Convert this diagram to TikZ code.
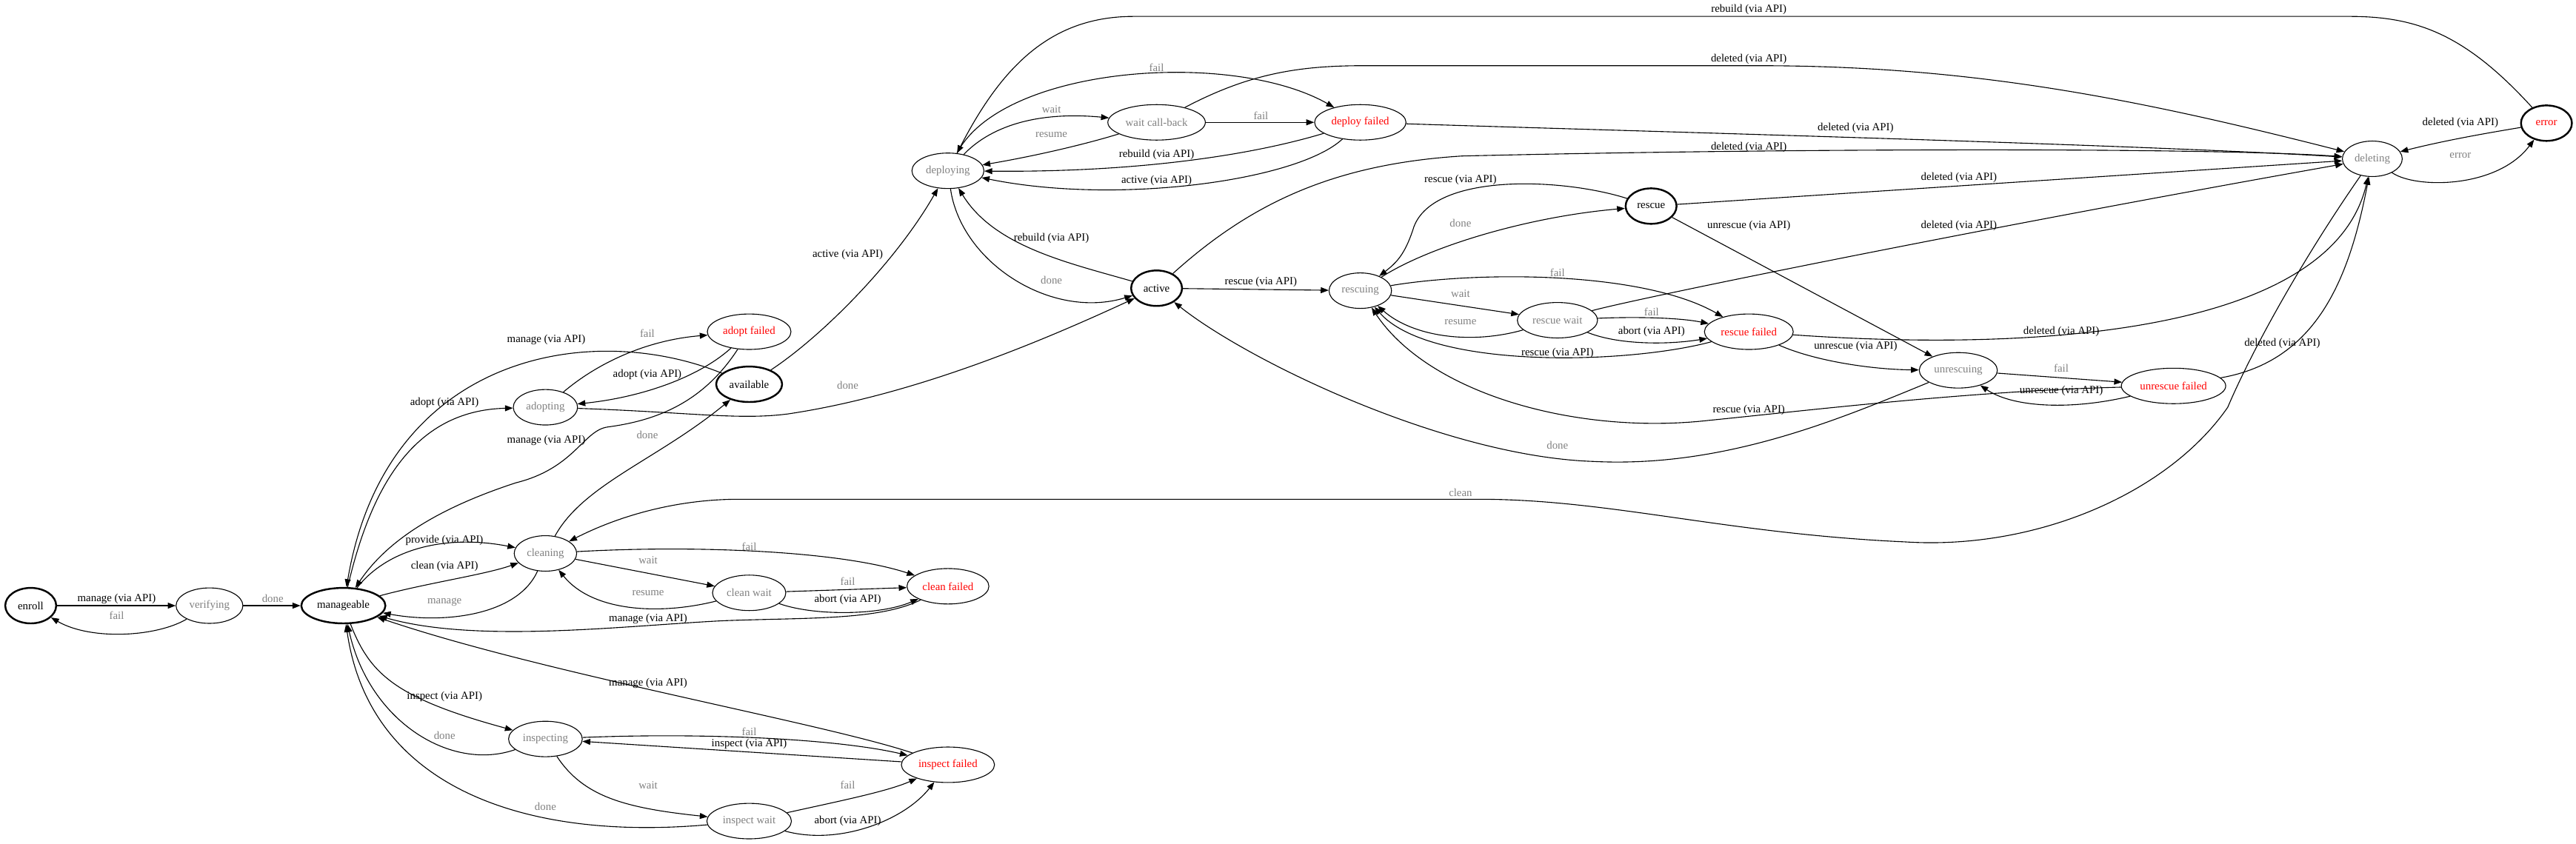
\documentclass[tikz,border=0pt]{standalone}
\usepackage{fontspec}
\setmainfont{Liberation Serif}
\usetikzlibrary{shapes.geometric,arrows.meta}
\newcommand\lblfont{\fontsize{6.7}{8}\selectfont}
\tikzset{
 st/.style={ellipse,draw,line width=0.5pt,minimum width=31pt,minimum height=21.6pt,inner xsep=2.1pt,inner ysep=0pt,font=\lblfont},
 gst/.style={st,text=gray},
 bst/.style={st,line width=1.1pt},
 rst/.style={st,text=red},
 e/.style={draw,line width=0.5pt,-{Triangle[length=4.8pt,width=3.6pt]}},
 lab/.style={font=\lblfont,inner sep=0pt},
 glab/.style={lab,text=gray}
}
\begin{document}
\begin{tikzpicture}[x=1pt,y=-1pt]
\useasboundingbox (0,0) rectangle (1568,513.9);
% nodes
\node[bst] (E) at (18.7,368.8) {enroll};
\node[gst] (V) at (127.5,368.8) {verifying};
\node[bst] (M) at (209,368.8) {manageable};
\node[gst] (C) at (332,337) {cleaning};
\node[gst] (CW) at (456,361) {clean wait};
\node[rst] (CF) at (577,357) {clean failed};
\node[gst] (I) at (332,450) {inspecting};
\node[gst] (IW) at (456,500) {inspect wait};
\node[rst] (IF) at (577,465.7) {inspect failed};
\node[gst] (A) at (332,248) {adopting};
\node[rst] (AF) at (456,202) {adopt failed};
\node[bst] (Av) at (456,234) {available};
\node[gst] (D) at (577,104) {deploying};
\node[gst] (W) at (704,74.5) {wait call-back};
\node[bst] (Act) at (704,175.5) {active};
\node[rst] (DF) at (828,74.5) {deploy failed};
\node[gst] (Rg) at (828,177) {rescuing};
\node[bst] (Rs) at (1005,125.5) {rescue};
\node[gst] (RW) at (948,195) {rescue wait};
\node[rst] (RF) at (1064.5,202) {rescue failed};
\node[gst] (Ur) at (1192,225.5) {unrescuing};
\node[rst] (UF) at (1323,235) {unrescue failed};
\node[gst] (Del) at (1444,96.7) {deleting};
\node[bst,text=red] (Err) at (1550,75) {error};
% edges
\draw[e] (E) -- (V);
\draw[e] (V) .. controls (95,388) and (55,390) .. (E);
\draw[e] (V) -- (M);
\draw[e] (M) .. controls (235,335) and (270,325) .. (C);
\draw[e] (M) .. controls (260,355) and (295,350) .. (C);
\draw[e] (C) .. controls (315,375) and (270,380) .. (M);
\draw[e] (C) .. controls (420,332) and (510,335) .. (CF);
\draw[e] (C) -- (CW);
\draw[e] (CW) .. controls (400,375) and (360,372) .. (C);
\draw[e] (CW) -- (CF);
\draw[e] (CW) .. controls (495,375) and (535,375) .. (CF);
\draw[e] (CF) .. controls (535,378) and (490,376) .. (440,378) .. controls (380,381) and (290,392) .. (M);
\draw[e] (M) .. controls (225,410) and (240,425) .. (I);
\draw[e] (I) .. controls (275,470) and (225,440) .. (M);
\draw[e] (I) .. controls (430,446) and (510,450) .. (IF);
\draw[e] (IF) -- (I);
\draw[e] (I) .. controls (355,485) and (380,492) .. (IW);
\draw[e] (IW) .. controls (320,512) and (225,480) .. (M);
\draw[e] (IW) .. controls (510,488) and (540,482) .. (IF);
\draw[e] (IW) .. controls (510,515) and (550,500) .. (IF);
\draw[e] (IF) .. controls (500,440) and (330,410) .. (M);
\draw[e] (M) .. controls (225,300) and (250,250) .. (A);
\draw[e] (Av) .. controls (360,195) and (235,215) .. (M);
\draw[e] (A) .. controls (365,220) and (395,207) .. (AF);
\draw[e] (AF) .. controls (425,230) and (390,242) .. (A);
\draw[e] (AF) .. controls (428,245) and (400,256) .. (370,260) .. controls (355,262) and (350,285) .. (314,294) .. controls (265,310) and (235,330) .. (M);
\draw[e] (A) .. controls (420,251) and (450,256) .. (480,252) .. controls (560,240) and (640,205) .. (Act);
\draw[e] (C) .. controls (355,295) and (400,280) .. (Av);
\draw[e] (Av) .. controls (500,205) and (545,160) .. (D);
\draw[e] (D) .. controls (605,75) and (635,68) .. (W);
\draw[e] (W) .. controls (660,88) and (630,95) .. (D);
\draw[e] (W) -- (DF);
\draw[e] (D) .. controls (610,40) and (750,30) .. (DF);
\draw[e] (DF) .. controls (760,95) and (690,105) .. (D);
\draw[e] (DF) .. controls (790,110) and (680,125) .. (D);
\draw[e] (D) .. controls (585,160) and (640,195) .. (Act);
\draw[e] (Act) .. controls (650,160) and (605,150) .. (D);
\draw[e] (Err) .. controls (1500,20) and (1470,10) .. (1430,10) -- (690,10) .. controls (640,10) and (610,40) .. (D);
\draw[e] (W) .. controls (760,45) and (790,40) .. (830,40) -- (1070,40) .. controls (1200,40) and (1300,60) .. (Del);
\draw[e] (DF) .. controls (1000,80) and (1300,88) .. (Del);
\draw[e] (Act) .. controls (760,125) and (810,100) .. (890,95) .. controls (1100,90) and (1350,90) .. (Del);
\draw[e] (Act) -- (Rg);
\draw[e] (Rs) .. controls (950,108) and (870,105) .. (860,140) .. controls (855,155) and (850,160) .. (Rg);
\draw[e] (Rg) .. controls (870,150) and (930,132) .. (Rs);
\draw[e] (Rs) -- (Del);
\draw[e] (Rs) -- (Ur);
\draw[e] (RW) .. controls (995,182) and (1200,140) .. (Del);
\draw[e] (Rg) .. controls (900,165) and (1000,165) .. (RF);
\draw[e] (Rg) -- (RW);
\draw[e] (RW) .. controls (895,210) and (860,205) .. (Rg);
\draw[e] (RW) .. controls (990,193) and (1020,193) .. (RF);
\draw[e] (RW) .. controls (985,210) and (1015,210) .. (RF);
\draw[e] (RF) .. controls (990,222) and (870,225) .. (Rg);
\draw[e] (RF) .. controls (1250,215) and (1420,200) .. (Del);
\draw[e] (RF) .. controls (1105,220) and (1140,225) .. (Ur);
\draw[e] (Ur) -- (UF);
\draw[e] (UF) .. controls (1260,250) and (1225,248) .. (Ur);
\draw[e] (UF) .. controls (1200,238) and (1100,250) .. (1040,256) .. controls (960,265) and (870,240) .. (Rg);
\draw[e] (UF) .. controls (1410,220) and (1430,170) .. (Del);
\draw[e] (Ur) .. controls (1120,255) and (1050,285) .. (970,281) .. controls (880,278) and (760,220) .. (Act);
\draw[e] (Del) .. controls (1400,160) and (1370,215) .. (1356,248) .. controls (1320,300) and (1240,335) .. (1160,330) .. controls (1050,325) and (980,304) .. (900,304) -- (450,304) .. controls (410,304) and (375,315) .. (C);
\draw[e] (Del) .. controls (1470,115) and (1520,115) .. (Err);
\draw[e] (Err) .. controls (1520,80) and (1490,85) .. (Del);
% labels
\node[lab] (l1) at (71,364.5) {manage (via API)};
\node[glab] (l2) at (71,375) {fail};
\node[glab] (l3) at (166,364.5) {done};
\node[lab] (l4) at (270.5,329) {provide (via API)};
\node[lab] (l5) at (270.6,345) {clean (via API)};
\node[glab] (l6) at (270.6,366.6) {manage};
\node[glab] (l7) at (456,333) {fail};
\node[glab] (l8) at (394.5,341) {wait};
\node[glab] (l9) at (394.5,361) {resume};
\node[glab] (l10) at (516,354) {fail};
\node[lab] (l11) at (516,365) {abort (via API)};
\node[lab] (l12) at (394.5,377) {manage (via API)};
\node[lab] (l13) at (394.5,416) {manage (via API)};
\node[lab] (l14) at (270.6,424) {inspect (via API)};
\node[glab] (l15) at (270.6,447.7) {done};
\node[glab] (l16) at (456,445.5) {fail};
\node[lab] (l17) at (456,453) {inspect (via API)};
\node[glab] (l18) at (394.5,478) {wait};
\node[glab] (l19) at (332,491) {done};
\node[glab] (l20) at (516,478) {fail};
\node[lab] (l21) at (516,500) {abort (via API)};
\node[lab] (l22) at (332.5,206.7) {manage (via API)};
\node[glab] (l23) at (394,203) {fail};
\node[lab] (l24) at (270.5,245.4) {adopt (via API)};
\node[lab] (l25) at (394,228) {adopt (via API)};
\node[lab] (l26) at (332.5,268) {manage (via API)};
\node[glab] (l27) at (394,264.6) {done};
\node[glab] (l28) at (516,234.8) {done};
\node[lab] (l29) at (516,155) {active (via API)};
\node[lab] (l30) at (640,145) {rebuild (via API)};
\node[glab] (l31) at (640,170.6) {done};
\node[glab] (l32) at (640,66.4) {wait};
\node[glab] (l33) at (640,82) {resume};
\node[glab] (l34) at (767.5,70.5) {fail};
\node[glab] (l35) at (704,41) {fail};
\node[lab] (l36) at (704,94) {rebuild (via API)};
\node[lab] (l37) at (704,110) {active (via API)};
\node[lab] (l38) at (767.5,171.7) {rescue (via API)};
\node[lab] (l39) at (1064.5,6) {rebuild (via API)};
\node[lab] (l40) at (1064.5,36.2) {deleted (via API)};
\node[lab] (l41) at (1129.5,78) {deleted (via API)};
\node[lab] (l42) at (1064.5,89.8) {deleted (via API)};
\node[lab] (l43) at (889,109.7) {rescue (via API)};
\node[lab] (l44) at (1192.4,108) {deleted (via API)};
\node[glab] (l45) at (889,135.9) {done};
\node[lab] (l46) at (1064.5,137.5) {unrescue (via API)};
\node[lab] (l47) at (1192.4,137.5) {deleted (via API)};
\node[glab] (l48) at (948,166) {fail};
\node[glab] (l49) at (889,179) {wait};
\node[glab] (l50) at (889,196) {resume};
\node[glab] (l51) at (1005.3,190) {fail};
\node[lab] (l52) at (1005.3,202) {abort (via API)};
\node[lab] (l53) at (948,214.8) {rescue (via API)};
\node[lab] (l54) at (1254.7,202) {deleted (via API)};
\node[lab] (l55) at (1129.5,211) {unrescue (via API)};
\node[glab] (l56) at (1254.7,224) {fail};
\node[lab] (l57) at (1254.7,238) {unrescue (via API)};
\node[lab] (l58) at (1389.2,209.3) {deleted (via API)};
\node[lab] (l59) at (1064.5,249.6) {rescue (via API)};
\node[glab] (l60) at (948,271) {done};
\node[glab] (l61) at (889,300) {clean};
\node[lab] (l62) at (1497.6,75) {deleted (via API)};
\node[glab] (l63) at (1497.6,94.6) {error};
\end{tikzpicture}
\end{document}
